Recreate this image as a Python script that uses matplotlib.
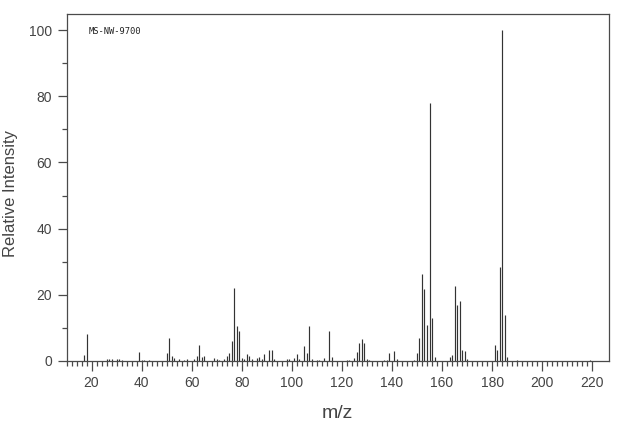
import matplotlib
matplotlib.use('Agg')
import matplotlib.pyplot as plt
import numpy as np

mz = [17, 18, 26, 27, 28, 30, 31, 32, 39, 40, 41, 43, 50, 51, 52, 53, 55, 57, 58,
      61, 62, 63, 64, 65, 69, 70, 71, 73, 74, 75, 76, 77, 78, 79, 80, 81, 82, 83, 84,
      86, 87, 88, 89, 91, 92, 93, 98, 99, 101, 102, 103, 105, 106, 107, 108, 110, 111,
      113, 115, 116, 122, 123, 125, 126, 127, 128, 129, 130, 131, 137, 138, 139, 141, 142,
      149, 150, 151, 152, 153, 154, 155, 156, 157, 163, 164, 165, 166, 167, 168, 169, 170,
      181, 182, 183, 184, 185, 186, 190, 219]
intensity = [1.8, 8.3, 0.7, 0.5, 0.5, 0.5, 0.6, 0.3, 2.6, 0.4, 0.4, 0.3, 2.3, 6.9, 1.5, 1.0, 0.7, 0.4, 0.6,
             0.5, 1.5, 4.7, 1.3, 1.6, 1.0, 0.5, 0.4, 0.5, 1.6, 2.5, 6.0, 22.0, 10.5, 9.0, 0.8, 0.6, 2.0, 1.5, 0.5,
             0.8, 1.3, 0.5, 2.2, 3.2, 3.2, 0.6, 0.5, 0.5, 1.0, 2.2, 0.7, 4.5, 2.4, 10.6, 0.7, 0.4, 0.4,
             0.8, 9.0, 1.2, 0.4, 0.3, 0.8, 2.7, 5.4, 6.5, 5.4, 0.6, 0.3, 0.3, 0.4, 2.4, 3.0, 0.6,
             0.3, 2.4, 7.0, 26.3, 21.9, 10.8, 78.0, 13.0, 1.2, 1.2, 1.8, 22.7, 16.8, 18.0, 3.4, 3.0, 0.5,
             4.8, 3.2, 28.4, 100.0, 13.9, 1.3, 0.3, 0.4]

gray = '#4a4a4a'
text_gray = '#444444'
plt.rcParams['font.family'] = ['Liberation Sans', 'DejaVu Sans']

fig = plt.figure(figsize=(6.28, 4.28), dpi=100)
ax = fig.add_axes([66.5 / 628, 1 - 361 / 428, (609 - 66.5) / 628, (361 - 13.5) / 428])

ax.vlines(mz, 0, intensity, color='#333333', linewidth=0.85)

ax.set_xlim(10, 226.7)
ax.set_ylim(0, 105)

ax.set_xticks(np.arange(20, 221, 20))
ax.set_xticks(np.arange(10, 221, 2), minor=True)
ax.set_yticks(np.arange(0, 101, 20))
ax.set_yticks(np.arange(0, 101, 10), minor=True)

ax.tick_params(axis='y', which='major', length=6.5, width=0.9, color=gray,
               labelcolor=text_gray, labelsize=10, pad=4)
ax.tick_params(axis='x', which='major', length=7.2, width=0.9, color=gray,
               labelcolor=text_gray, labelsize=10, pad=3.5)
ax.tick_params(axis='x', which='minor', length=3.6, width=0.9, color=gray)
ax.tick_params(axis='y', which='minor', length=3.6, width=0.9, color=gray)

for s in ax.spines.values():
    s.set_color(gray)
    s.set_linewidth(0.9)

ax.set_xlabel('m/z', fontsize=14, color=text_gray)
ax.xaxis.set_label_coords(0.5, -0.127)
ax.set_ylabel('Relative Intensity', fontsize=12, color=text_gray)
ax.yaxis.set_label_coords(-0.089, 0.481)

ax.text(0.04, 0.9475, 'MS-NW-9700', transform=ax.transAxes, fontsize=6.3,
        family='DejaVu Sans Mono', color='#222222', va='center')

fig.savefig('out.png', dpi=100)
